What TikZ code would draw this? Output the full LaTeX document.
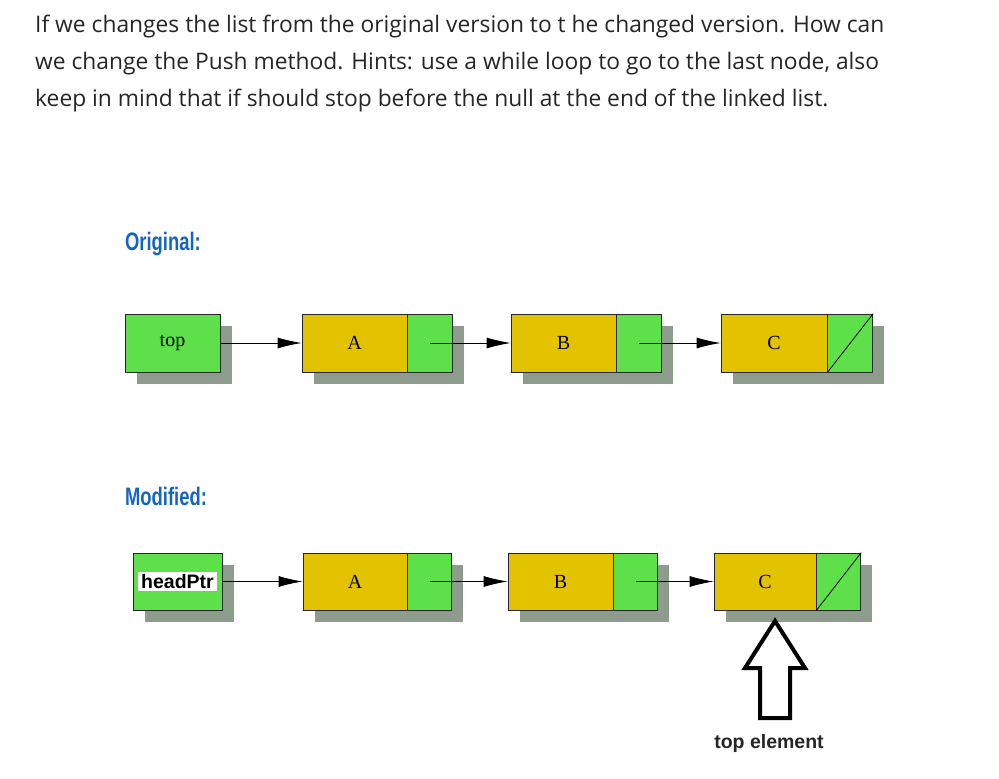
\documentclass[tikz,border=0pt]{standalone}
\usepackage{fontspec}
\setmainfont{Liberation Serif}
\newfontfamily\hdr{Open Sans}
\newfontfamily\lbl{Liberation Sans}
\usetikzlibrary{arrows.meta}
\definecolor{gr}{HTML}{5EE04A}
\definecolor{yl}{HTML}{E3C300}
\definecolor{sh}{HTML}{8E9C8E}
\definecolor{bl}{HTML}{1565C0}
\tikzset{
 box/.style={draw=black!85,line width=0.8pt,minimum height=58pt,inner sep=0pt},
 lnk/.style={line width=0.8pt,-{Latex[length=24pt,width=11pt]}},
 ttl/.style={anchor=west,font=\lbl\bfseries\fontsize{23}{26}\selectfont,text=bl,xscale=0.8,yscale=1.1},
 dl/.style={font=\fontsize{20}{22}\selectfont},
}
\begin{document}
\begin{tikzpicture}[x=1pt,y=-1pt]
\useasboundingbox (0,0) rectangle (999,779);
\fill[white] (0,0) rectangle (999,779);
\node[anchor=west,align=left,font=\hdr\fontsize{22.8}{37}\selectfont,text=black!85,inner sep=0pt] (hd) at (35,64) {If we changes the list from the original version to t he changed version. How can\\we change the Push method. Hints: use a while loop to go to the last node, also\\keep in mind that if should stop before the null at the end of the linked list.};
\node[ttl,inner sep=0pt] (t1) at (125,244) {Original:};
\node[ttl,inner sep=0pt] (t2) at (125,496) {Modified:};
% original shadows
\foreach \a/\b in {125/220,302/452,511/661,721/872}
 \fill[sh] (\a+12,326) rectangle (\b+12,384);
\node[box,fill=gr,minimum width=95pt,dl] (top) at (172.5,343) {top};
\node[box,fill=yl,minimum width=105pt,dl] (A) at (354.5,343) {A};
\node[box,fill=gr,minimum width=45pt,anchor=west] (Ap) at (A.east) {};
\node[box,fill=yl,minimum width=105pt,dl] (B) at (563.5,343) {B};
\node[box,fill=gr,minimum width=45pt,anchor=west] (Bp) at (B.east) {};
\node[box,fill=yl,minimum width=106pt,dl] (C) at (774,343) {C};
\node[box,fill=gr,minimum width=45pt,anchor=west] (Cp) at (C.east) {};
\draw[line width=0.8pt] (Cp.south west) -- (Cp.north east);
\draw[lnk] (top.east) -- (A.west);
\draw[lnk] (Ap.center) -- (B.west);
\draw[lnk] (Bp.center) -- (C.west);
% modified shadows
\foreach \a/\b in {133/222,303/451,508/657,714/860}
 \fill[sh] (\a+12,565) rectangle (\b+12,622);
\node[box,fill=gr,minimum width=89pt,minimum height=57pt] (hp) at (177.5,581.5) {};
\node[fill=white,inner sep=2pt,minimum width=79pt,font=\lbl\bfseries\fontsize{19.5}{22}\selectfont] (hpt) at (hp.center) {headPtr};
\node[box,fill=yl,minimum width=104pt,minimum height=57pt,dl] (A2) at (355,581.5) {A};
\node[box,fill=gr,minimum width=44pt,minimum height=57pt,anchor=west] (A2p) at (A2.east) {};
\node[box,fill=yl,minimum width=105pt,minimum height=57pt,dl] (B2) at (560.5,581.5) {B};
\node[box,fill=gr,minimum width=44pt,minimum height=57pt,anchor=west] (B2p) at (B2.east) {};
\node[box,fill=yl,minimum width=102pt,minimum height=57pt,dl] (C2) at (765,581.5) {C};
\node[box,fill=gr,minimum width=44pt,minimum height=57pt,anchor=west] (C2p) at (C2.east) {};
\draw[line width=0.8pt] (C2p.south west) -- (C2p.north east);
\draw[lnk] (hp.east) -- (A2.west);
\draw[lnk] (A2p.center) -- (B2.west);
\draw[lnk] (B2p.center) -- (C2.west);
% hollow arrow
\draw[line width=4pt,line join=miter,fill=white] (775,621) -- (805,668) -- (790,668) -- (790,718) -- (760,718) -- (760,668) -- (745,668) -- cycle;
\node[font=\lbl\bfseries\fontsize{19.5}{22}\selectfont,text=black!85] (te) at (769,743) {top element};
\end{tikzpicture}
\end{document}
